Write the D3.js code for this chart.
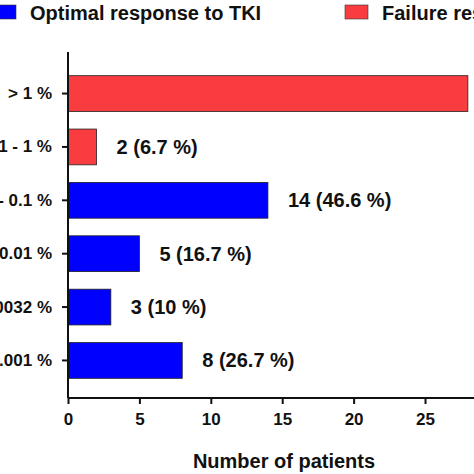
<!DOCTYPE html><html><head><script src="https://cdn.jsdelivr.net/npm/d3@7"></script>
<style>body{margin:0;background:#fff}svg text{font-family:"Liberation Sans Narrow","Liberation Sans",Arial,sans-serif;font-weight:bold;fill:#111}</style></head><body><svg id="c" width="474" height="474"></svg><script>
const categories=["> 1 %","0.1 - 1 %","0.01 - 0.1 %","0.0032 - 0.01 %","0.001 - 0.0032 %","< 0.001 %"];
const values=[28,2,14,5,3,8];
const groups=["failure","failure","optimal","optimal","optimal","optimal"];
const labels=["","2 (6.7 %)","14 (46.6 %)","5 (16.7 %)","3 (10 %)","8 (26.7 %)"];
const ticks=[0,5,10,15,20,25];
const colors={optimal:"#0000ff",failure:"#f83c3f"};
const svg=d3.select("#c");
const x=d3.scaleLinear().domain([0,28.5]).range([68,475]);
const y=d3.scaleBand().domain(categories).range([65,389]).paddingInner(0.33).paddingOuter(0.2);
svg.selectAll("rect.b").data(values).join("rect").attr("x",x(0)).attr("y",(d,i)=>y(categories[i]))
 .attr("width",d=>x(d)-x(0)).attr("height",y.bandwidth()).attr("fill",(d,i)=>colors[groups[i]]).attr("stroke","#222").attr("stroke-width",0.8);
svg.selectAll("text.v").data(values).join("text").attr("x",d=>x(d)+20).attr("y",(d,i)=>y(categories[i])+y.bandwidth()/2+7)
 .style("font-size","20px").text((d,i)=>labels[i]);
const xa=svg.append("g").attr("transform","translate(0,398)").call(d3.axisBottom(x).tickValues(ticks).tickSize(6).tickSizeOuter(0));
xa.selectAll("text").style("font-size","17px").attr("dy","1.05em");
const ya=svg.append("g").attr("transform","translate(68,0)").call(d3.axisLeft(y).tickSize(6).tickSizeOuter(0));
ya.select(".domain").attr("d","M0,52V398");
xa.select(".domain").attr("d","M68,0H475");
ya.selectAll("text").style("font-size","17px").attr("x",-16);
svg.selectAll(".domain,.tick line").attr("stroke","#111").attr("stroke-width",2);
svg.append("text").attr("x",284).attr("y",468).attr("text-anchor","middle").style("font-size","20px").text("Number of patients");
svg.append("rect").attr("x",-1).attr("y",5).attr("width",17).attr("height",14).attr("fill",colors.optimal).attr("stroke","#333").attr("stroke-width",0.6);
svg.append("text").attr("x",30).attr("y",20).style("font-size","20px").text("Optimal response to TKI");
svg.append("rect").attr("x",345).attr("y",5).attr("width",23).attr("height",14).attr("fill",colors.failure).attr("stroke","#333").attr("stroke-width",0.6);
svg.append("text").attr("x",382).attr("y",20).style("font-size","20px").text("Failure response to TKI");
</script></body></html>
